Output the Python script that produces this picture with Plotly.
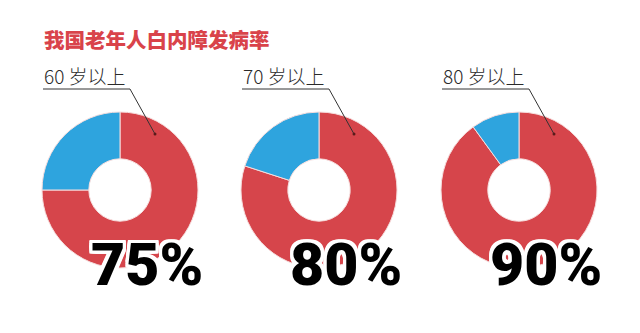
import plotly.graph_objects as go

# ---- data ----
groups = ["60 岁以上", "70 岁以上", "80 岁以上"]
rates = [75, 80, 90]
pct_labels = ["75%", "80%", "90%"]
title_text = "我国老年人白内障发病率"

W, H = 640, 333
RED = "#d6454b"
BLUE = "#2ea4de"

def px(x):
    return x / W

def py(y):
    return 1 - y / H

centers_x = [120, 319, 519]
center_y = 190
R = 78

fig = go.Figure()
shapes = []
annotations = []

outline = ", ".join(f"{a}px {b}px 0 #fff" for a in (-3, -2, 0, 2, 3) for b in (-3, -2, 0, 2, 3) if (a, b) != (0, 0))

for i, (g, r, lab) in enumerate(zip(groups, rates, pct_labels)):
    cx = centers_x[i]
    fig.add_trace(go.Pie(
        values=[r, 100 - r],
        labels=["患病", "未患病"],
        marker=dict(colors=[RED, BLUE], line=dict(color="#f6dede", width=1)),
        hole=0.4,
        sort=False,
        direction="clockwise",
        rotation=0,
        textinfo="none",
        hoverinfo="label+percent",
        showlegend=False,
        domain=dict(x=[px(cx - R), px(cx + R)], y=[py(center_y + R), py(center_y - R)]),
    ))
    # label text
    tx0 = cx - 77
    annotations.append(dict(
        x=px(tx0 - 1), y=py(76), xref="paper", yref="paper",
        xanchor="left", yanchor="middle", showarrow=False,
        text=g, font=dict(family="Noto Sans CJK SC", size=19, color="#2a2a2a", weight=300),
    ))
    ux1 = cx + 10
    shapes.append(dict(type="line", xref="paper", yref="paper",
                       x0=px(tx0), x1=px(ux1), y0=py(89), y1=py(89),
                       line=dict(color="#333", width=1)))
    dx, dy = cx + 35, 134
    shapes.append(dict(type="line", xref="paper", yref="paper",
                       x0=px(ux1), x1=px(dx), y0=py(89), y1=py(dy),
                       line=dict(color="#333", width=1)))
    shapes.append(dict(type="circle", xref="paper", yref="paper",
                       x0=px(dx - 1.5), x1=px(dx + 1.5), y0=py(dy + 1.5), y1=py(dy - 1.5),
                       fillcolor="#5a1a1a", line=dict(width=0)))
    # big percentage
    annotations.append(dict(
        x=px(cx + 27), y=py(264), xref="paper", yref="paper",
        xanchor="center", yanchor="middle", showarrow=False,
        text=lab,
        font=dict(family="Roboto", size=59,
                  color="#000", weight=900, shadow=outline),
    ))

annotations.append(dict(
    x=px(42), y=py(39), xref="paper", yref="paper",
    xanchor="left", yanchor="middle", showarrow=False,
    text=title_text,
    font=dict(family="Noto Sans CJK SC", size=20.5, color="#d9434a", weight=900),
))

fig.update_layout(
    width=W, height=H,
    margin=dict(l=0, r=0, t=0, b=0),
    paper_bgcolor="#ffffff",
    plot_bgcolor="#ffffff",
    shapes=shapes,
    annotations=annotations,
)

fig.write_html("out.html")
